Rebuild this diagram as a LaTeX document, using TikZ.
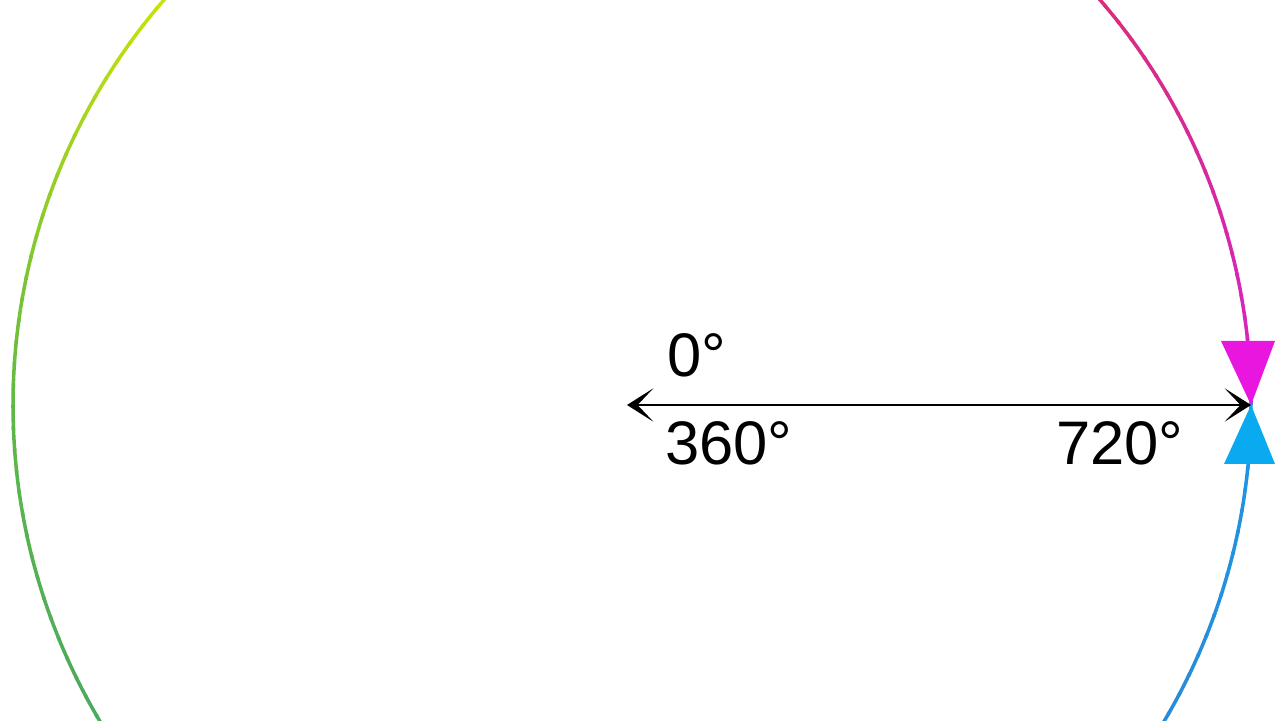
\documentclass[tikz,border=0pt]{standalone}
\usepackage{fontspec}
\setmainfont{Liberation Sans}
\usetikzlibrary{arrows.meta}
\definecolor{cmag}{RGB}{215,35,200}
\definecolor{cpink}{RGB}{216,48,106}
\definecolor{cyel}{RGB}{215,232,0}
\definecolor{cgreen}{RGB}{95,185,70}
\definecolor{cteal}{RGB}{60,160,110}
\definecolor{cblue}{RGB}{40,140,215}
\definecolor{ccyan}{RGB}{30,150,230}
\definecolor{tipmag}{RGB}{232,22,222}
\definecolor{tipcyan}{RGB}{10,170,240}
\begin{document}
\begin{tikzpicture}[x=0.02cm,y=0.02cm,
        ring/.style={line width=2pt},
        span/.style={line width=1.6pt, {Stealth[length=15pt,width=19pt,inset=9pt]}-{Stealth[length=15pt,width=19pt,inset=9pt]}},
        lbl/.style={font=\fontsize{35}{42}\selectfont, inner sep=0pt}]
        % Frame
        \useasboundingbox (0,0) rectangle (1280,720);
        \coordinate (ctr) at (632,315);
        \coordinate (west) at (627,315);
        \coordinate (east) at (1251,315);

        % Colour circle, drawn in short pieces
        \begin{scope}
            \clip (0,0) rectangle (1280,720);
            \foreach \sa/\sb/\ca/\cb in {0/50/cmag/cpink, 50/134/cpink/cyel, 134/180/cyel/cgreen,
                    180/230/cgreen/cteal, 230/330/cteal/cblue, 330/360/cblue/ccyan}{
                \pgfmathsetmacro{\n}{int((\sb-\sa)/2)}
                \foreach \i in {1,...,\n}{
                    \pgfmathsetmacro{\a}{\sa+2*(\i-1)}
                    \pgfmathsetmacro{\p}{100*(\i-0.5)/\n}
                    \draw[ring, color=\cb!\p!\ca] (ctr) ++(\a:619) arc[start angle=\a, end angle=\a+2.3, radius=619];
                }
            }
        \end{scope}

        % Heads where the circle meets itself
        \fill[tipmag] (1221,379) -- (1275,379) -- (east) -- cycle;
        \fill[tipcyan] (1224,256) -- (1275,256) -- (east) -- cycle;

        % Radius
        \draw[span] (west) -- (east);

        % Labels
        \node[lbl] (zero) at (697,365) {0°};
        \node[lbl] (full) at (729,277) {360°};
        \node[lbl] (double) at (1120,277) {720°};
\end{tikzpicture}
\end{document}
